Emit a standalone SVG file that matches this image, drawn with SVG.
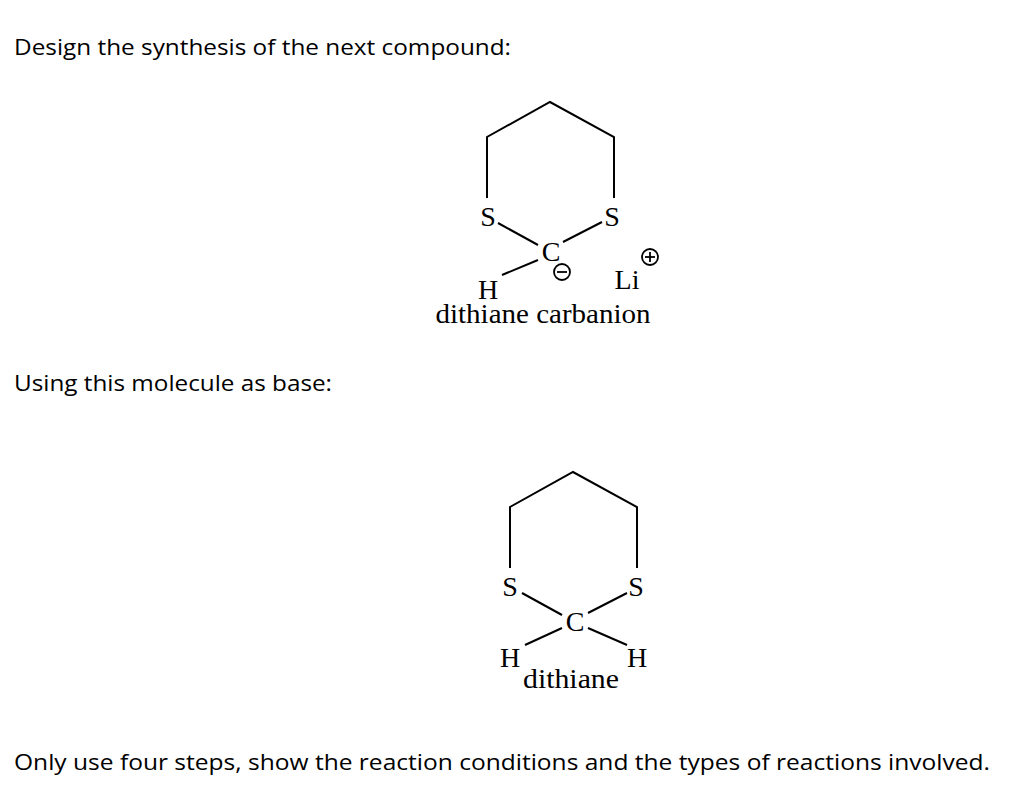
<svg xmlns="http://www.w3.org/2000/svg" width="1024" height="804" viewBox="0 0 1024 804">
<style>
.t{font-family:"Open Sans","Liberation Sans",sans-serif;font-size:22px;fill:#000}
.c{font-family:"Liberation Serif","Times New Roman",serif;font-size:28px;fill:#000;text-anchor:middle}
.b{stroke:#000;stroke-width:2;fill:none}
.s{stroke:#000;stroke-width:1.8;fill:none}
</style>
<rect width="1024" height="804" fill="#fff"/>
<text class="t" x="14" y="55" textLength="497" lengthAdjust="spacingAndGlyphs">Design the synthesis of the next compound:</text>
<text class="t" x="14" y="391" textLength="318" lengthAdjust="spacingAndGlyphs">Using this molecule as base:</text>
<text class="t" x="14" y="770" textLength="976" lengthAdjust="spacingAndGlyphs">Only use four steps, show the reaction conditions and the types of reactions involved.</text>
<g id="carbanion">
<polyline class="b" points="487,198 487,137 550,102 614,137 614,198"/>
<line class="b" x1="498" y1="223" x2="538" y2="245"/>
<line class="b" x1="563" y1="242" x2="602" y2="222"/>
<line class="b" x1="502" y1="275" x2="538" y2="260"/>
<text class="c" x="488" y="226">S</text>
<text class="c" x="612" y="226">S</text>
<text class="c" x="551" y="261">C</text>
<text class="c" x="488" y="299">H</text>
<text class="c" x="627" y="289">Li</text>
<circle class="s" cx="562" cy="272" r="8"/>
<line class="s" x1="557" y1="272" x2="567" y2="272"/>
<circle class="s" cx="650" cy="257" r="8"/>
<line class="s" x1="645" y1="257" x2="655" y2="257"/>
<line class="s" x1="650" y1="252" x2="650" y2="262"/>
<text class="c" x="543" y="323" textLength="215" lengthAdjust="spacingAndGlyphs">dithiane carbanion</text>
</g>
<g id="dithiane">
<polyline class="b" points="510,568 510,507 573,472 637,507 637,568"/>
<line class="b" x1="522" y1="593" x2="562" y2="615"/>
<line class="b" x1="588" y1="613" x2="627" y2="593"/>
<line class="b" x1="525" y1="645" x2="562" y2="628"/>
<line class="b" x1="588" y1="628" x2="627" y2="645"/>
<text class="c" x="510" y="596">S</text>
<text class="c" x="636" y="596">S</text>
<text class="c" x="575" y="631">C</text>
<text class="c" x="510" y="667">H</text>
<text class="c" x="637" y="667">H</text>
<text class="c" x="571" y="688" textLength="96" lengthAdjust="spacingAndGlyphs">dithiane</text>
</g>
<g id="connectors"/>
</svg>
